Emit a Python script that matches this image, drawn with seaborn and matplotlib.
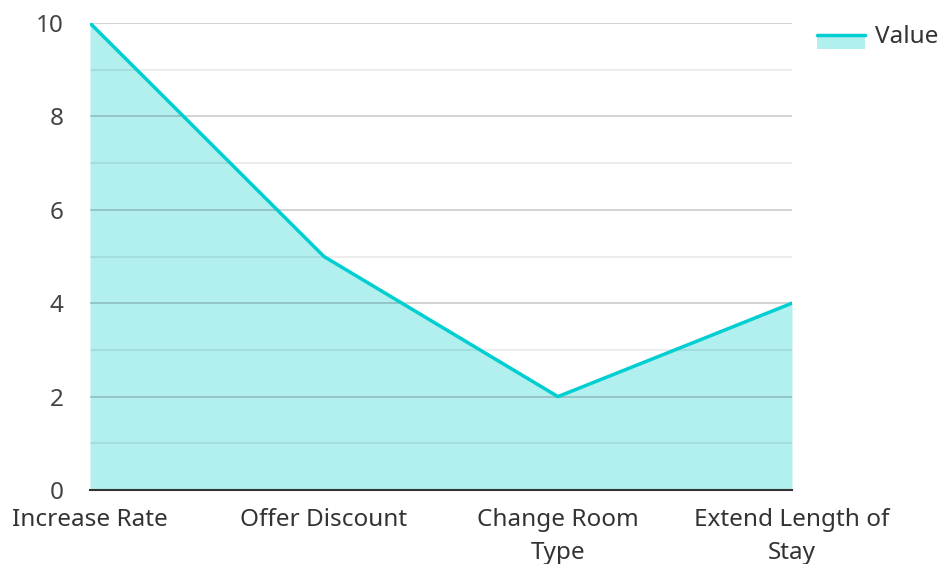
import matplotlib
matplotlib.use("Agg")
import matplotlib.pyplot as plt
import seaborn as sns
import pandas as pd
from matplotlib.legend_handler import HandlerBase
from matplotlib.patches import Rectangle
from matplotlib.lines import Line2D

categories = ["Increase Rate", "Offer Discount", "Change Room\nType", "Extend Length of\nStay"]
values = [10, 5, 2, 4]
series_name = "Value"

LINE = "#00CED1"
FILL = "#B2EFEF"
FS = 17.5

sns.set_theme(style="white")
plt.rcParams['font.family'] = ['Noto Sans', 'DejaVu Sans']

df = pd.DataFrame({"x": list(range(len(categories))), "y": values})

fig = plt.figure(figsize=(9.41, 5.64), dpi=100)
ax = fig.add_axes([0.0956, 0.1312, 0.746, 0.828])

ax.fill_between(df["x"], 0, df["y"], color=FILL, lw=0, zorder=1)
sns.lineplot(data=df, x="x", y="y", ax=ax, color=LINE, lw=2.5, zorder=3)

ax.set_xlim(0, len(categories) - 1)
ax.set_ylim(0, 10)
ax.set_yticks([0, 2, 4, 6, 8, 10])
ax.set_yticks([1, 3, 5, 7, 9], minor=True)
ax.set_xticks(range(len(categories)))
ax.set_xticklabels(categories, linespacing=1.48)
ax.grid(True, which="major", axis="y", color="#000000", alpha=0.2, lw=1.2, zorder=2)
ax.grid(True, which="minor", axis="y", color="#000000", alpha=0.09, lw=1.2, zorder=2)
ax.grid(False, axis="x")
ax.set_axisbelow(False)
for s in ["top", "right", "left"]:
    ax.spines[s].set_visible(False)
ax.spines["bottom"].set_color("#333333")
ax.spines["bottom"].set_linewidth(1.5)
ax.spines["bottom"].set_zorder(4)
ax.tick_params(axis="y", which="both", length=0, pad=19, labelsize=FS, labelcolor="#444444")
ax.tick_params(axis="x", which="both", length=0, pad=13, labelsize=FS, labelcolor="#333333")
ax.set_xlabel("")
ax.set_ylabel("")


class AreaHandler(HandlerBase):
    def create_artists(self, legend, orig_handle, xdescent, ydescent, width, height, fontsize, trans):
        y0 = -ydescent - 4.3
        r = Rectangle((-xdescent, y0), width, height * 0.85, facecolor=FILL, lw=0, transform=trans)
        l = Line2D([-xdescent, -xdescent + width], [y0 + height * 0.85] * 2, color=LINE, lw=2.5, transform=trans)
        return [r, l]


handle = Rectangle((0, 0), 1, 1)
leg = fig.legend([handle], [series_name], handler_map={Rectangle: AreaHandler()},
                 loc="center left", bbox_to_anchor=(0.868, 0.934), frameon=False,
                 fontsize=FS, handlelength=2.0, handleheight=0.62, handletextpad=0.4,
                 borderaxespad=0, borderpad=0)
for t in leg.get_texts():
    t.set_color("#333333")

fig.savefig("out.png", dpi=100)
